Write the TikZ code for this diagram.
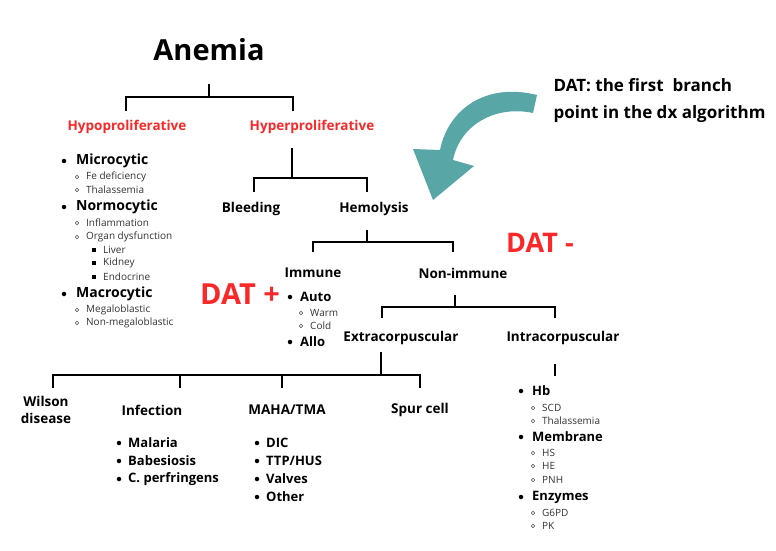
\documentclass[tikz,border=0pt]{standalone}
\usepackage{fontspec}
\setmainfont{Open Sans}
\begin{document}
\begin{tikzpicture}[x=1pt,y=-1pt,
  br/.style={line width=2pt},
  hd/.style={font=\fontsize{13.5}{15}\selectfont\bfseries},
  red/.style={hd,text=rd},
  it/.style={anchor=west,inner sep=0pt,font=\fontsize{14}{15}\selectfont\bfseries},
  sb/.style={anchor=west,inner sep=0pt,font=\fontsize{10}{11}\selectfont,text=black!80},
  bul/.style={circle,fill=black,inner sep=0pt,minimum size=4.5pt},
  cir/.style={circle,draw=black!70,line width=0.6pt,inner sep=0pt,minimum size=3.5pt},
  sq/.style={fill=black,inner sep=0pt,minimum size=3.5pt}]
\definecolor{rd}{RGB}{250,40,40}
\definecolor{tl}{RGB}{88,166,166}
\useasboundingbox (0,0) rectangle (776,551);
\node[font=\fontsize{29}{32}\selectfont\bfseries] (an) at (209,50) {Anemia};
\draw[br] (209,84)--(209,97) (126,111)--(126,97)--(293,97)--(293,111);
\node[red] (hypo) at (127,127) {Hypoproliferative};
\node[red] (hyper) at (312,127) {Hyperproliferative};
\draw[br] (292,148)--(292,178) (254,192)--(254,178)--(367,178)--(367,192);
\node[hd] (ble) at (251,209) {Bleeding};
\node[hd] (hem) at (374,209) {Hemolysis};
\draw[br] (367,230)--(367,242) (313,252)--(313,242)--(453,242)--(453,252);
\node[hd] (imm) at (313,273) {Immune};
\node[hd] (non) at (463,273) {Non-immune};
\draw[br] (455,295)--(455,307) (382,318)--(382,307)--(555,307)--(555,318);
\node[hd] (ext) at (401,338) {Extracorpuscular};
\node[hd] (int) at (563,338) {Intracorpuscular};
\draw[br] (381,352)--(381,375) (53,388)--(53,375)--(420,375)--(420,388) (180,375)--(180,388) (282,375)--(282,388);
\node[hd,align=center,font=\fontsize{13.5}{17}\selectfont\bfseries] (wil) at (46,410) {Wilson\\disease};
\node[hd] (inf) at (152,410) {Infection};
\node[hd] (maha) at (287,410) {MAHA/TMA};
\node[hd] (spur) at (420,410) {Spur cell};
\draw[br] (555,364)--(555,376);
% DAT labels
\node[font=\fontsize{29}{32}\selectfont\bfseries,text=rd] (dp) at (240,294) {DAT +};
\node[font=\fontsize{27}{30}\selectfont\bfseries,text=rd] (dm) at (540,243) {DAT -};
\node[anchor=west,align=left,font=\fontsize{17}{27}\selectfont\bfseries] (note) at (550,101) {DAT: the first\ \ branch\\point in the dx algorithm};
% arrow
\fill[tl] (537,95) .. controls (485,82) and (448,110) .. (440,150)
  -- (413,149) -- (433,200) -- (474,166) -- (453,160)
  .. controls (460,125) and (495,105) .. (533,113) -- cycle;
% left list
\foreach \y/\t in {161/Microcytic,207/Normocytic,294/Macrocytic}
  {\node[bul] at (64,\y) {}; \node[it] at (76,\y) {\t};}
\foreach \y/\t in {177/Fe deficiency,190/Thalassemia,223/Inflammation,237/Organ dysfunction,310/Megaloblastic,323/Non-megaloblastic}
  {\node[cir] at (77,\y) {}; \node[sb] at (86,\y) {\t};}
\foreach \y/\t in {250/Liver,263/Kidney,277/Endocrine}
  {\node[sq] at (94,\y) {}; \node[sb] at (103,\y) {\t};}
% immune list
\foreach \y/\t in {297/Auto,342/Allo}
  {\node[bul] at (290,\y) {}; \node[it,font=\fontsize{13}{15}\selectfont\bfseries] at (300,\y) {\t};}
\foreach \y/\t in {313/Warm,326/Cold}
  {\node[cir] at (301,\y) {}; \node[sb] at (310,\y) {\t};}
% infection
\foreach \y/\t in {443/Malaria,461/Babesiosis,479/C. perfringens}
  {\node[bul] at (119,\y) {}; \node[it,font=\fontsize{13}{15}\selectfont\bfseries] at (128,\y) {\t};}
\foreach \y/\t in {443/DIC,461/{TTP/HUS},479/Valves,497/Other}
  {\node[bul] at (257,\y) {}; \node[it,font=\fontsize{13}{15}\selectfont\bfseries] at (266,\y) {\t};}
% intracorpuscular
\foreach \y/\t in {391/Hb,437/Membrane,497/Enzymes}
  {\node[bul] at (521,\y) {}; \node[it,font=\fontsize{13}{15}\selectfont\bfseries] at (532,\y) {\t};}
\foreach \y/\t in {408/SCD,421/Thalassemia,453/HS,466/HE,480/PNH,513/G6PD,526/PK}
  {\node[cir] at (533,\y) {}; \node[sb] at (542,\y) {\t};}
\end{tikzpicture}
\end{document}
